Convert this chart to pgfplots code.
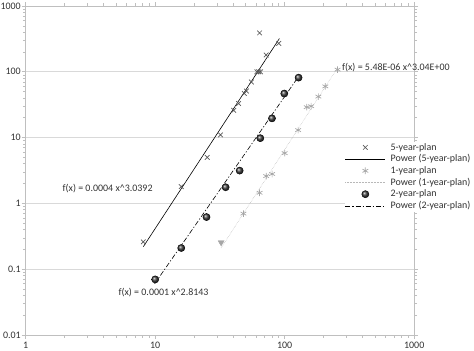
\documentclass[border=0pt]{standalone}
\usepackage{pgfplots}
\pgfplotsset{compat=1.18}
\usepackage{fontspec}
\setmainfont{Carlito}
\usetikzlibrary{shapes.geometric}
\definecolor{gridc}{HTML}{D9D9D9}
\definecolor{axc}{HTML}{BFBFBF}
\definecolor{txt}{HTML}{333333}
\definecolor{xmk}{HTML}{595959}
\definecolor{astc}{HTML}{A6A6A6}
\definecolor{trl}{HTML}{B8B8B8}
\begin{document}
\begin{tikzpicture}
\begin{axis}[
  at={(0,0)}, anchor=south west,
  scale only axis, width=388.5bp, height=329bp,
  xmode=log, ymode=log,
  xmin=1, xmax=1000, ymin=0.01, ymax=1000,
  xtick={1,10,100,1000}, xticklabels={1,10,100,1000},
  ytick={0.01,0.1,1,10,100,1000}, yticklabels={0.01,0.1,1,10,100,1000},
  minor tick num=0, minor xtick={}, minor ytick={},
  tick align=outside, major tick length=4bp,
  tick style={axc, line width=0.6bp},
  ymajorgrids, major grid style={gridc, line width=0.8bp},
  axis line style={axc, line width=0.8bp},
  ticklabel style={font=\fontsize{10}{12}\selectfont, text=txt},
  yticklabel style={inner xsep=0.8bp},
  /pgf/number format/assume math mode=true,
  clip=false,
  legend cell align=left,
  legend style={at={(axis description cs:0.822,0.588)}, anchor=north west,
    draw=none, fill=white, inner sep=0pt, outer sep=0pt, row sep=0pt,
    font=\fontsize{10}{12}\selectfont, text=txt,
    nodes={inner sep=1bp, text height=7.5bp, text depth=2.2bp},
    /tikz/every odd column/.append style={column sep=4bp}},
  legend image code/.code={\draw[mark repeat=2,mark phase=2,#1] plot coordinates {(0bp,0bp) (20bp,0bp) (40bp,0bp)};},
]
% 5-year-plan
\addplot[only marks, mark=x, mark size=3.3bp, xmk, mark options={line width=0.7bp}] coordinates {
 (8.1,0.26) (15.9,1.8) (25.2,5.0) (31.9,11) (40.4,26) (44,33) (48.8,47) (50.6,51)
 (55.3,70) (61,100) (63,100) (65,100) (64,390) (72,180) (90,270)};
\addlegendentry{5-year-plan}
\addplot[black, line width=0.6bp] coordinates {(8.1,0.22) (91,320)};
\addlegendentry{Power (5-year-plan)}
% 1-year-plan
\addplot[only marks, mark=asterisk, mark size=3.3bp, astc, mark options={line width=0.7bp}] coordinates {
 (48,0.70) (64,1.45) (72,2.6) (80,2.8) (100,5.8) (127,13) (148,29) (160,30)
 (182,42) (206,60) (256,108)};
\addlegendentry{1-year-plan}
\addplot[trl, line width=0.5bp, densely dotted] coordinates {(32.3,0.21) (256,115)};
\addlegendentry{Power (1-year-plan)}
\addplot[only marks, mark=triangle*, mark size=3.5bp, astc, mark options={rotate=180}, forget plot] coordinates {(32.3,0.255)};
% 2-year-plan
\addplot[only marks, mark=ball, ball color=black!75, mark size=3.6bp] coordinates {
 (10,0.07) (15.9,0.21) (24.9,0.62) (35,1.76) (44.9,3.15) (64.8,9.8) (79.8,19.6)
 (99.3,46.7) (128,81.5)};
\addlegendentry{2-year-plan}
\addplot[black, line width=0.6bp, dash pattern=on 5bp off 2bp on 1.2bp off 2bp] coordinates {(9.9,0.06) (128,85)};
\addlegendentry{Power (2-year-plan)}
\node[font=\fontsize{10}{12}\selectfont, text=txt, inner sep=0pt] at (axis cs:4.29,1.68) {f(x) = 0.0004 x\^{}3.0392};
\node[font=\fontsize{10}{12}\selectfont, text=txt, inner sep=0pt] at (axis cs:11.6,0.044) {f(x) = 0.0001 x\^{}2.8143};
\node[font=\fontsize{10}{12}\selectfont, text=txt, inner sep=0pt, anchor=west] at (axis cs:276.6,116.5) {f(x) = 5.48E-06 x\^{}3.04E+00};
\end{axis}
\pgfresetboundingbox
\useasboundingbox (-25.7bp,-16bp) rectangle (448.3bp,335bp);
\end{tikzpicture}
\end{document}
